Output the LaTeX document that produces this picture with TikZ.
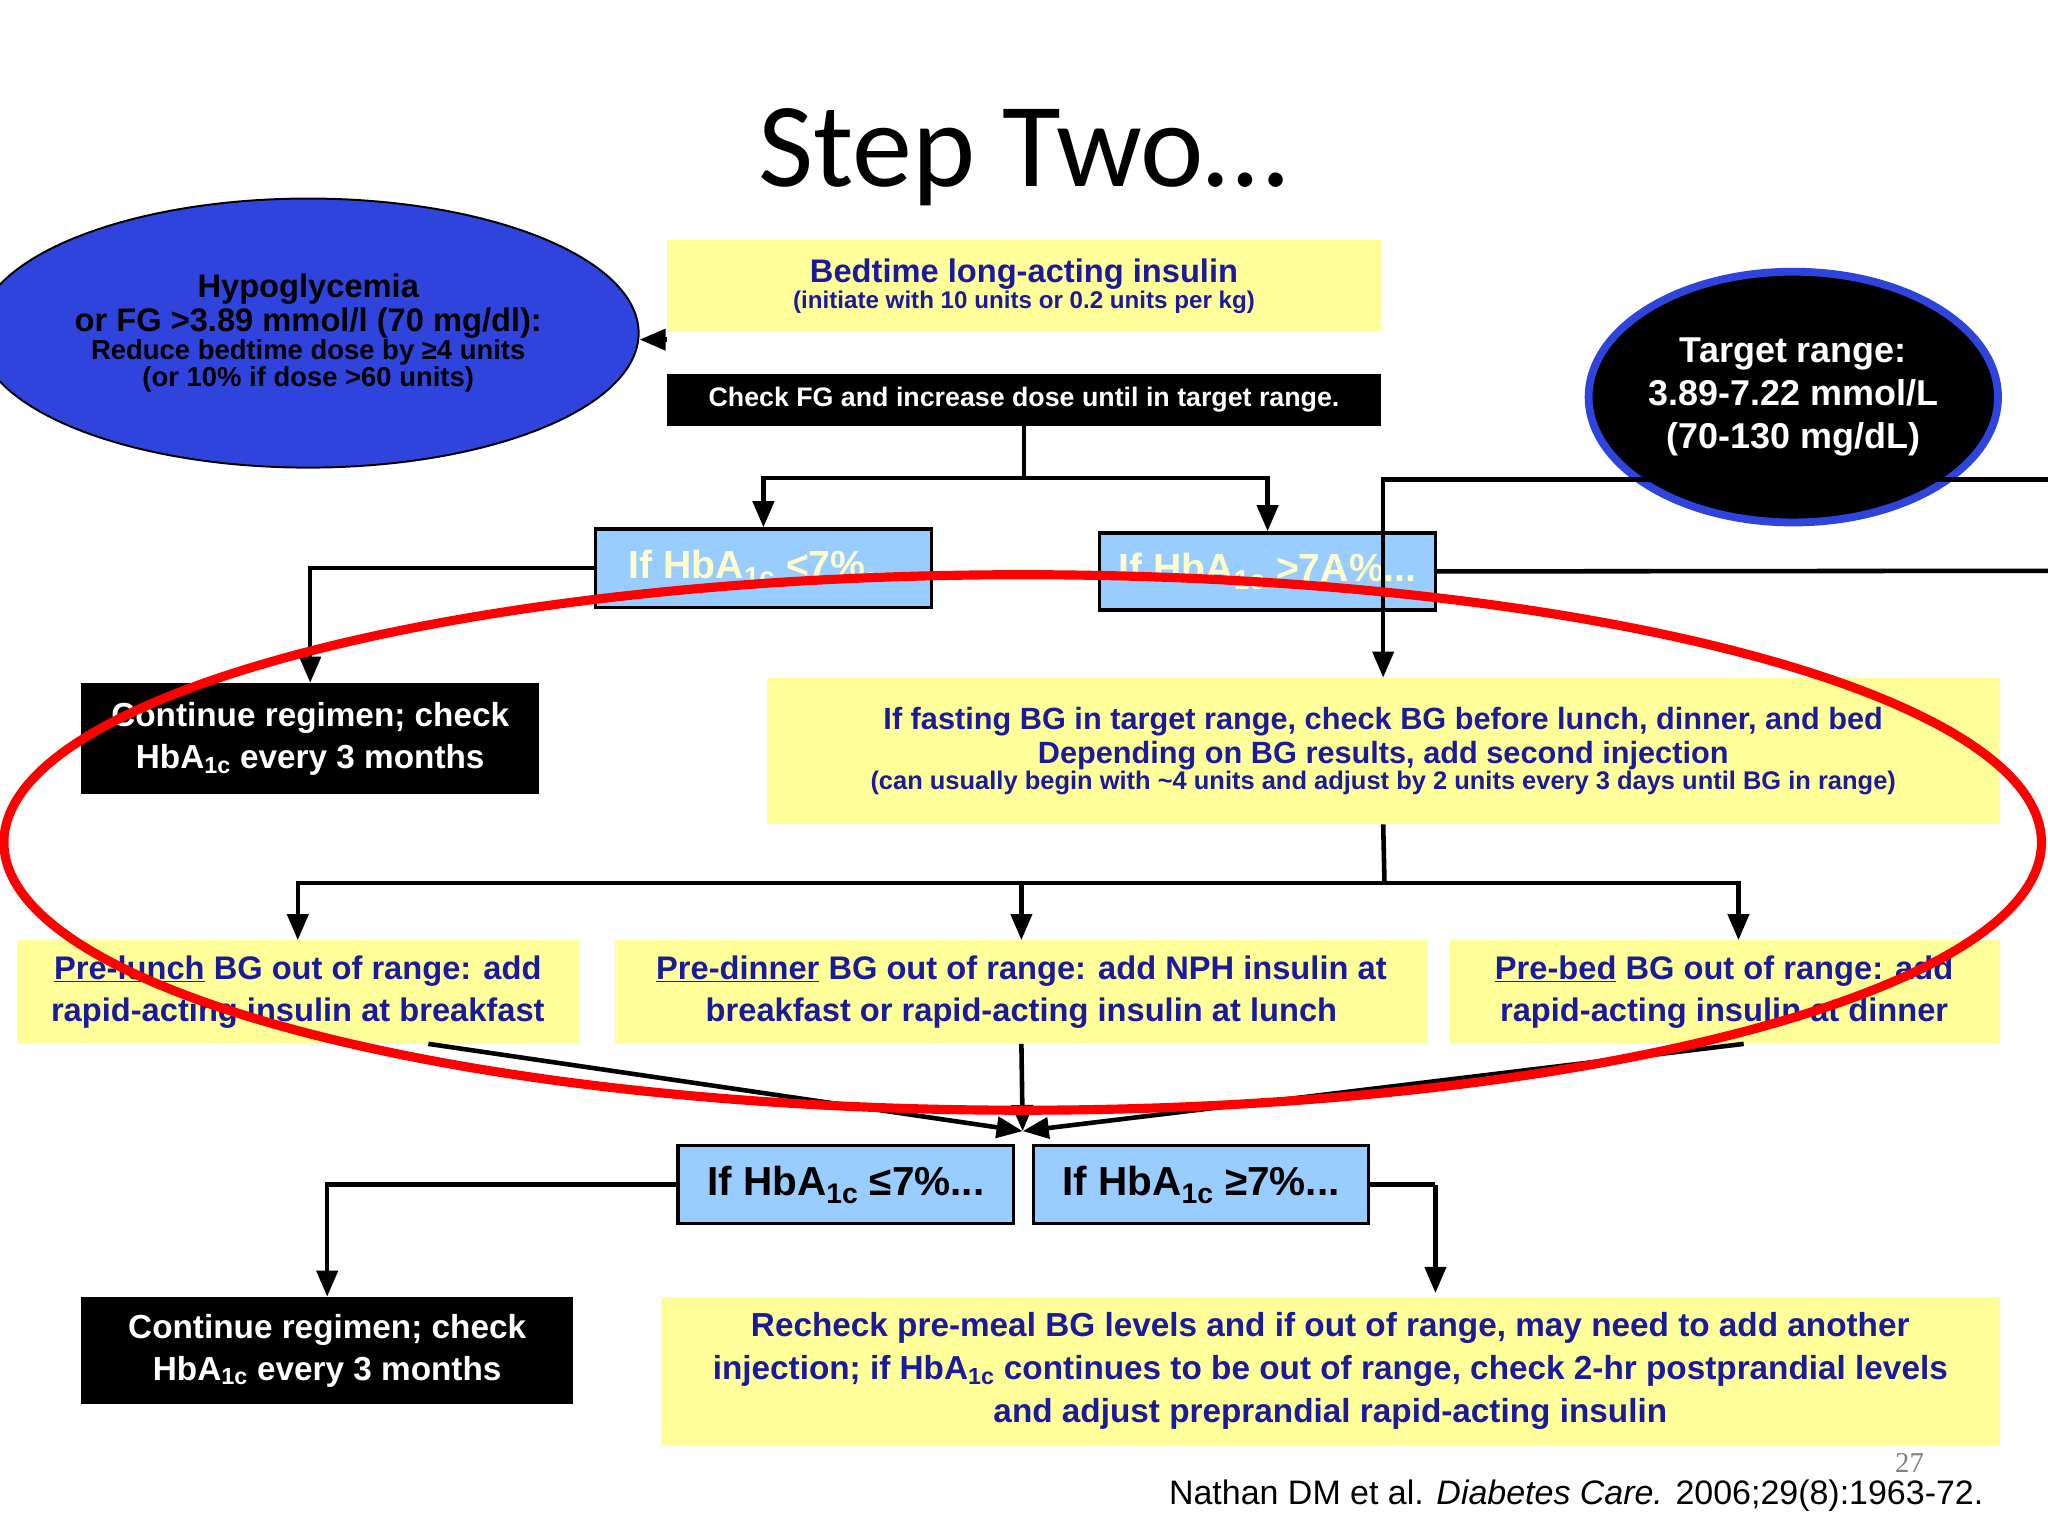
\documentclass[tikz,border=0pt]{standalone}
\usepackage{fontspec}
\setmainfont{Liberation Sans}
\newfontfamily\titlefont{Carlito}
\newfontfamily\numfont{Liberation Serif}
\usetikzlibrary{arrows.meta,shapes.geometric}
\definecolor{yel}{HTML}{FFFF99}
\definecolor{dblue}{HTML}{1A1A9C}
\definecolor{lblue}{HTML}{99CCFF}
\definecolor{eblue}{HTML}{2E44DD}
\newcommand{\oc}{\textsubscript{1c}}
\tikzset{
 ybox/.style={fill=yel,draw=none,text=dblue,font=\bfseries,align=center,inner sep=0pt},
 kbox/.style={fill=black,draw=none,text=white,font=\bfseries,align=center,inner sep=0pt},
 bbox/.style={fill=lblue,draw=black,line width=2.5pt,font=\bfseries,align=center,inner sep=0pt},
 arr/.style={line width=3.5pt,-{Triangle[width=16pt,length=20pt]}},
 ln/.style={line width=3.5pt},
}
\begin{document}
\begin{tikzpicture}[x=1pt,y=-1pt]
\useasboundingbox[fill=white] (0,0) rectangle (1568,1176);
\node[font=\titlefont\fontsize{92}{96}\selectfont] (title) at (783,120) {Step Two…};
\node[ybox,minimum width=546pt,minimum height=70pt] (bed) at (784,219)
 {\fontsize{25}{28}\selectfont Bedtime long-acting insulin\\[0pt]\fontsize{18.5}{20}\selectfont (initiate with 10 units or 0.2 units per kg)};
\node[kbox,minimum width=546pt,minimum height=40pt,font=\bfseries\fontsize{20.5}{22}\selectfont] (chk) at (784,306) {Check FG and increase dose until in target range.};
\node[ellipse,fill=eblue,draw=black,line width=1.5pt,minimum width=410pt,minimum height=206pt,inner sep=0pt,align=center,font=\bfseries] (hypo) at (236,255)
 {\fontsize{25}{28}\selectfont Hypoglycemia\\[2pt]\fontsize{25}{28}\selectfont or FG >3.89 mmol/l (70 mg/dl):\\[0pt]\fontsize{21}{24}\selectfont Reduce bedtime dose by ≥4 units\\[0pt]\fontsize{21}{24}\selectfont (or 10\% if dose >60 units)};
\node[ellipse,fill=black,draw=eblue,line width=6pt,minimum width=292pt,minimum height=192pt,inner sep=0pt,align=center,text=white,font=\bfseries\fontsize{27.5}{33}\selectfont] (tgt) at (1373,304)
 {Target range:\\3.89-7.22 mmol/L\\(70-130 mg/dL)};
\draw[arr] ([yshift=-41pt]bed.west) -- ([yshift=-5pt]hypo.east);
\node[bbox,minimum width=257pt,minimum height=60pt,text=yel!50!white,font=\bfseries\fontsize{30}{32}\selectfont] (h1) at (584.5,435) {If HbA\oc{} <7\%...};
\node[bbox,minimum width=257pt,minimum height=59pt,text=yel!50!white,font=\bfseries\fontsize{30}{32}\selectfont] (h2) at (970.5,437.5) {If HbA\oc{} >7A\%...};
\coordinate (j1) at (784,366);
\draw[ln] (chk.south) -- (j1);
\draw[arr] (j1) -| (h1.north);
\draw[arr] (j1) -| (h2.north);
\node[kbox,minimum width=351pt,minimum height=85pt,font=\bfseries\fontsize{25.5}{32}\selectfont] (cont1) at (237.5,565.5) {Continue regimen; check\\HbA\oc{} every 3 months};
\draw[arr] (h1.west) -| (cont1.north);
\node[ybox,minimum width=944pt,minimum height=112pt] (fast) at (1059,575)
 {\fontsize{23.5}{26}\selectfont If fasting BG in target range, check BG before lunch, dinner, and bed\\[3pt]\fontsize{23.5}{26}\selectfont Depending on BG results, add second injection\\[0pt]\fontsize{19.5}{22}\selectfont (can usually begin with \textasciitilde4 units and adjust by 2 units every 3 days until BG in range)};
\coordinate (rt1) at (1568,437);
\coordinate (rt2) at (1568,367);
\draw[ln] (h2.east) -- (rt1);
\draw[arr] (rt2) -| (fast.north);
\node[ybox,minimum width=430pt,minimum height=79pt,font=\bfseries\fontsize{25}{32}\selectfont] (pl) at (228,759.5) {\underline{Pre-lunch} BG out of range: add\\rapid-acting insulin at breakfast};
\node[ybox,minimum width=622pt,minimum height=79pt,font=\bfseries\fontsize{25}{32}\selectfont] (pd) at (782,759.5) {\underline{Pre-dinner} BG out of range: add NPH insulin at\\breakfast or rapid-acting insulin at lunch};
\node[ybox,minimum width=422pt,minimum height=79pt,font=\bfseries\fontsize{25}{32}\selectfont] (pb) at (1320,759.5) {\underline{Pre-bed} BG out of range: add\\rapid-acting insulin at dinner};
\coordinate (j2) at (1060,676);
\draw[ln] (fast.south) -- (j2);
\draw[arr] (j2) -| (pl.north);
\draw[arr] (j2) -| (pd.north);
\draw[arr] (j2) -| ([xshift=11pt]pb.north);
\coordinate (cv) at (783,866);
\draw[arr] ([xshift=100pt]pl.south) -- (cv);
\draw[arr] (pd.south) -- (cv);
\draw[arr] ([xshift=15pt]pb.south) -- (cv);
\node[bbox,minimum width=257pt,minimum height=60pt,font=\bfseries\fontsize{31}{32}\selectfont] (h3) at (647.5,907) {If HbA\oc{} ≤7\%...};
\node[bbox,minimum width=257pt,minimum height=60pt,font=\bfseries\fontsize{31}{32}\selectfont] (h4) at (919.5,907) {If HbA\oc{} ≥7\%...};
\node[kbox,minimum width=377pt,minimum height=82pt,font=\bfseries\fontsize{25.5}{32}\selectfont] (cont2) at (250.5,1034) {Continue regimen; check\\HbA\oc{} every 3 months};
\node[ybox,minimum width=1025pt,minimum height=113pt,font=\bfseries\fontsize{25.5}{33}\selectfont] (rech) at (1018.5,1049.5) {Recheck pre-meal BG levels and if out of range, may need to add another\\injection; if HbA\oc{} continues to be out of range, check 2-hr postprandial levels\\and adjust preprandial rapid-acting insulin};
\draw[arr] (h3.west) -| (cont2.north);
\coordinate (k4) at (1099,907);
\draw[ln] (h4.east) -- (k4);
\draw[arr] (k4) -- (1099,990);
\draw[red,line width=7pt] (783,645) ellipse [x radius=780pt,y radius=205pt];
\node[text=gray,font=\numfont\fontsize{22}{24}\selectfont] (pg) at (1462,1120) {27};
\node[anchor=east,font=\fontsize{26}{28}\selectfont] (cite) at (1522,1145) {Nathan DM et al. \textit{Diabetes Care.} 2006;29(8):1963-72.};
\end{tikzpicture}
\end{document}
